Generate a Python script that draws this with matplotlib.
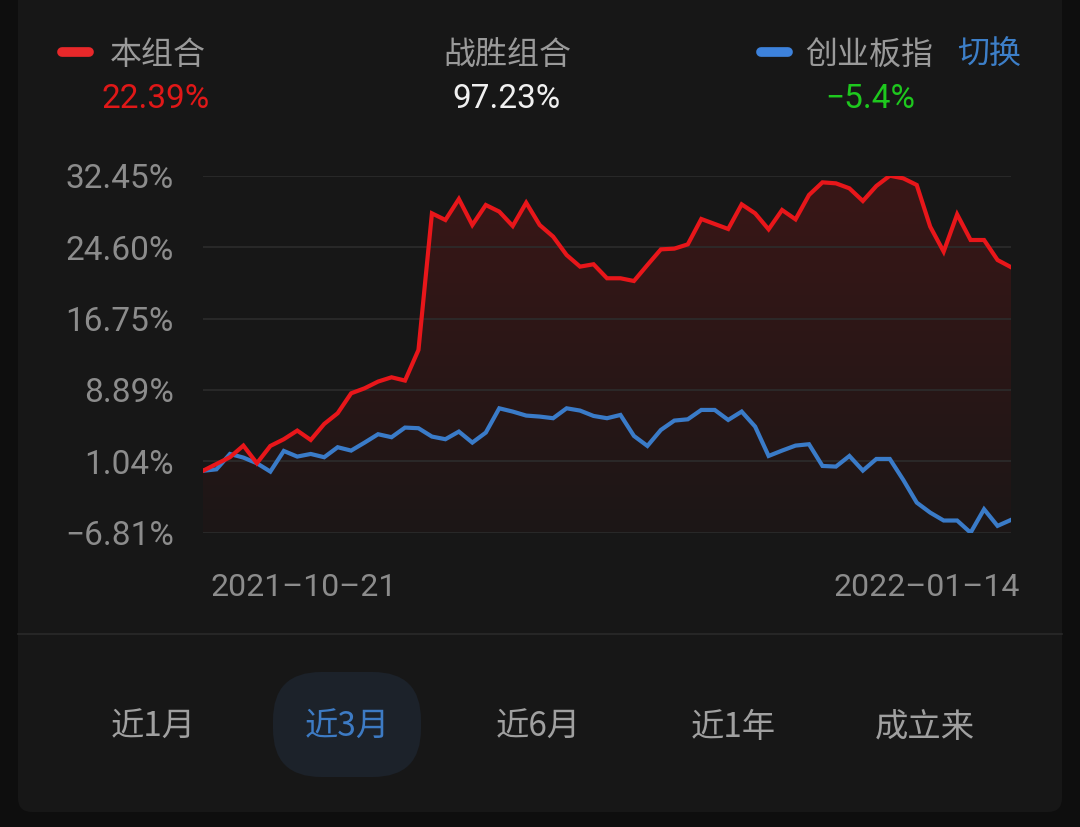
import numpy as np
import matplotlib
matplotlib.use("Agg")
import matplotlib.pyplot as plt
from matplotlib.patches import FancyBboxPatch, Polygon
from matplotlib.transforms import IdentityTransform

plt.rcParams['font.family'] = ['Noto Sans CJK SC', 'DejaVu Sans']
NUM_FONT = ['Roboto', 'Noto Sans CJK SC']

# 61 trading days, 2021-10-21 .. 2022-01-14 (cumulative return, %)
portfolio = [0.0, 0.75, 1.49, 2.77, 0.83, 2.73, 3.47, 4.42, 3.39, 5.15,
             6.33, 8.52, 9.07, 9.81, 10.28, 9.92, 13.29, 28.31, 27.58, 29.89,
             27.03, 29.23, 28.50, 26.92, 29.48, 27.03, 25.75, 23.73, 22.45, 22.71,
             21.17, 21.17, 20.87, 22.63, 24.35, 24.43, 24.90, 27.69, 27.14, 26.59,
             29.30, 28.31, 26.55, 28.68, 27.65, 30.33, 31.72, 31.61, 31.06, 29.67,
             31.32, 32.45, 32.16, 31.43, 26.85, 24.10, 28.20, 25.38, 25.38, 23.18,
             22.39]
chinext = [0.0, 0.16, 1.85, 1.45, 0.83, -0.09, 2.18, 1.56, 1.85, 1.49,
           2.59, 2.22, 3.10, 4.02, 3.69, 4.75, 4.68, 3.76, 3.47, 4.31,
           3.10, 4.20, 6.87, 6.51, 6.07, 5.96, 5.78, 6.87, 6.62, 6.03,
           5.78, 6.14, 3.83, 2.73, 4.49, 5.52, 5.66, 6.69, 6.69, 5.59,
           6.51, 4.86, 1.63, 2.22, 2.77, 2.92, 0.53, 0.46, 1.63, 0.02,
           1.30, 1.30, -1.00, -3.50, -4.60, -5.47, -5.47, -6.81, -4.23, -6.06,
           -5.40]
start_date = "2021-10-21"
end_date = "2022-01-14"
periods = ["近1月", "近3月", "近6月", "近1年", "成立来"]
selected = "近3月"

W, H = 1080, 827
fig = plt.figure(figsize=(W / 100, H / 100), dpi=100, facecolor="#0e0e0e")

def fx(px):
    return px / W

def fy(py):
    return 1 - py / H

# card background (pixel coords, origin bottom-left)
card = FancyBboxPatch((18, H - 812), 1044, 900,
                      boxstyle="round,pad=0,rounding_size=14",
                      transform=IdentityTransform(), facecolor="#171717",
                      edgecolor="none", zorder=-10)
fig.add_artist(card)
fig.add_artist(plt.Line2D([fx(18), fx(1062)], [fy(634), fy(634)],
                          color="#2a2a2a", lw=1.2, transform=fig.transFigure, zorder=-5))

# header
gray = "#9a9a9a"
fig.add_artist(plt.Line2D([fx(62), fx(89)], [fy(52), fy(52)], color="#e8282a",
                          lw=7, solid_capstyle="round", transform=fig.transFigure))
fig.text(fx(110), fy(55), "本组合", color=gray, fontsize=23, va="center", ha="left")
fig.text(fx(156), fy(99), "22.39%", color="#e01818", fontsize=24, va="center",
         ha="center", family=NUM_FONT)
fig.text(fx(507), fy(55), "战胜组合", color=gray, fontsize=23, va="center", ha="center")
fig.text(fx(507), fy(99), "97.23%", color="#f0f0f0", fontsize=24, va="center",
         ha="center", family=NUM_FONT)
fig.add_artist(plt.Line2D([fx(761), fx(788)], [fy(52), fy(52)], color="#3d82dc",
                          lw=7, solid_capstyle="round", transform=fig.transFigure))
fig.text(fx(805), fy(55), "创业板指", color=gray, fontsize=23, va="center", ha="left")
fig.text(fx(957), fy(55), "切换", color="#3d7fc8", fontsize=23, va="center", ha="left")
fig.text(fx(870), fy(99), "\u22125.4%", color="#1ec81e", fontsize=24, va="center",
         ha="center", family=NUM_FONT)

# chart
ax = fig.add_axes([fx(203), fy(532.7), fx(1011) - fx(203), fy(175.7) - fy(532.7)])
ax.set_facecolor("none")
x = np.arange(len(portfolio))
ymin = min(min(portfolio), min(chinext))
ymax = max(max(portfolio), max(chinext))
ax.set_xlim(0, len(portfolio) - 1)
ax.set_ylim(ymin, ymax)
ticks = np.linspace(ymin, ymax, 6)
for t in ticks:
    ax.axhline(t, color="#2c2c2c", lw=1.2, zorder=1)
ax.set_yticks(ticks)
ax.set_yticklabels([f"{t:.2f}%".replace("-", "\u2212") for t in ticks],
                   family=NUM_FONT)
ax.tick_params(axis="y", length=0, pad=21, labelsize=24, labelcolor="#8c8c8c")
ax.set_xticks([])
for s in ax.spines.values():
    s.set_visible(False)

# gradient fill under the portfolio line
grad = np.linspace(0, 1, 256).reshape(-1, 1)
top = np.array([0x3a, 0x16, 0x16]) / 255
bot = np.array([0x1c, 0x17, 0x17]) / 255
img = top * grad[..., None] + bot * (1 - grad[..., None])
im = ax.imshow(img, extent=[0, len(portfolio) - 1, ymin, ymax], origin="lower",
               aspect="auto", zorder=0.5)
poly = Polygon(np.column_stack([np.r_[x, x[-1], x[0]],
                                np.r_[portfolio, ymin, ymin]]),
               closed=True, transform=ax.transData, facecolor="none", edgecolor="none")
ax.add_patch(poly)
im.set_clip_path(poly)

ax.plot(x, chinext, color="#3a7bc8", lw=3, zorder=3, solid_joinstyle="miter")
ax.plot(x, portfolio, color="#e8161a", lw=3, zorder=4, solid_joinstyle="miter")

fig.text(fx(210), fy(587), start_date.replace("-", "\u2013"), color="#8c8c8c",
         fontsize=23, va="center", ha="left", family=NUM_FONT)
fig.text(fx(1020), fy(587), end_date.replace("-", "\u2013"), color="#8c8c8c",
         fontsize=23, va="center", ha="right", family=NUM_FONT)

# period selector
pos = [153, 347, 538, 733, 925]
for p, label in zip(pos, periods):
    if label == selected:
        pill = FancyBboxPatch((p - 74, H - 777), 148, 105,
                              boxstyle="round,pad=0,rounding_size=48",
                              transform=IdentityTransform(), facecolor="#1c222a",
                              edgecolor="none", zorder=-5)
        fig.add_artist(pill)
        color = "#3d7bc4"
    else:
        color = "#a0a0a0"
    fig.text(fx(p), fy(727), label, color=color, fontsize=24, va="center", ha="center")

fig.savefig("out.png", dpi=100, facecolor=fig.get_facecolor())
